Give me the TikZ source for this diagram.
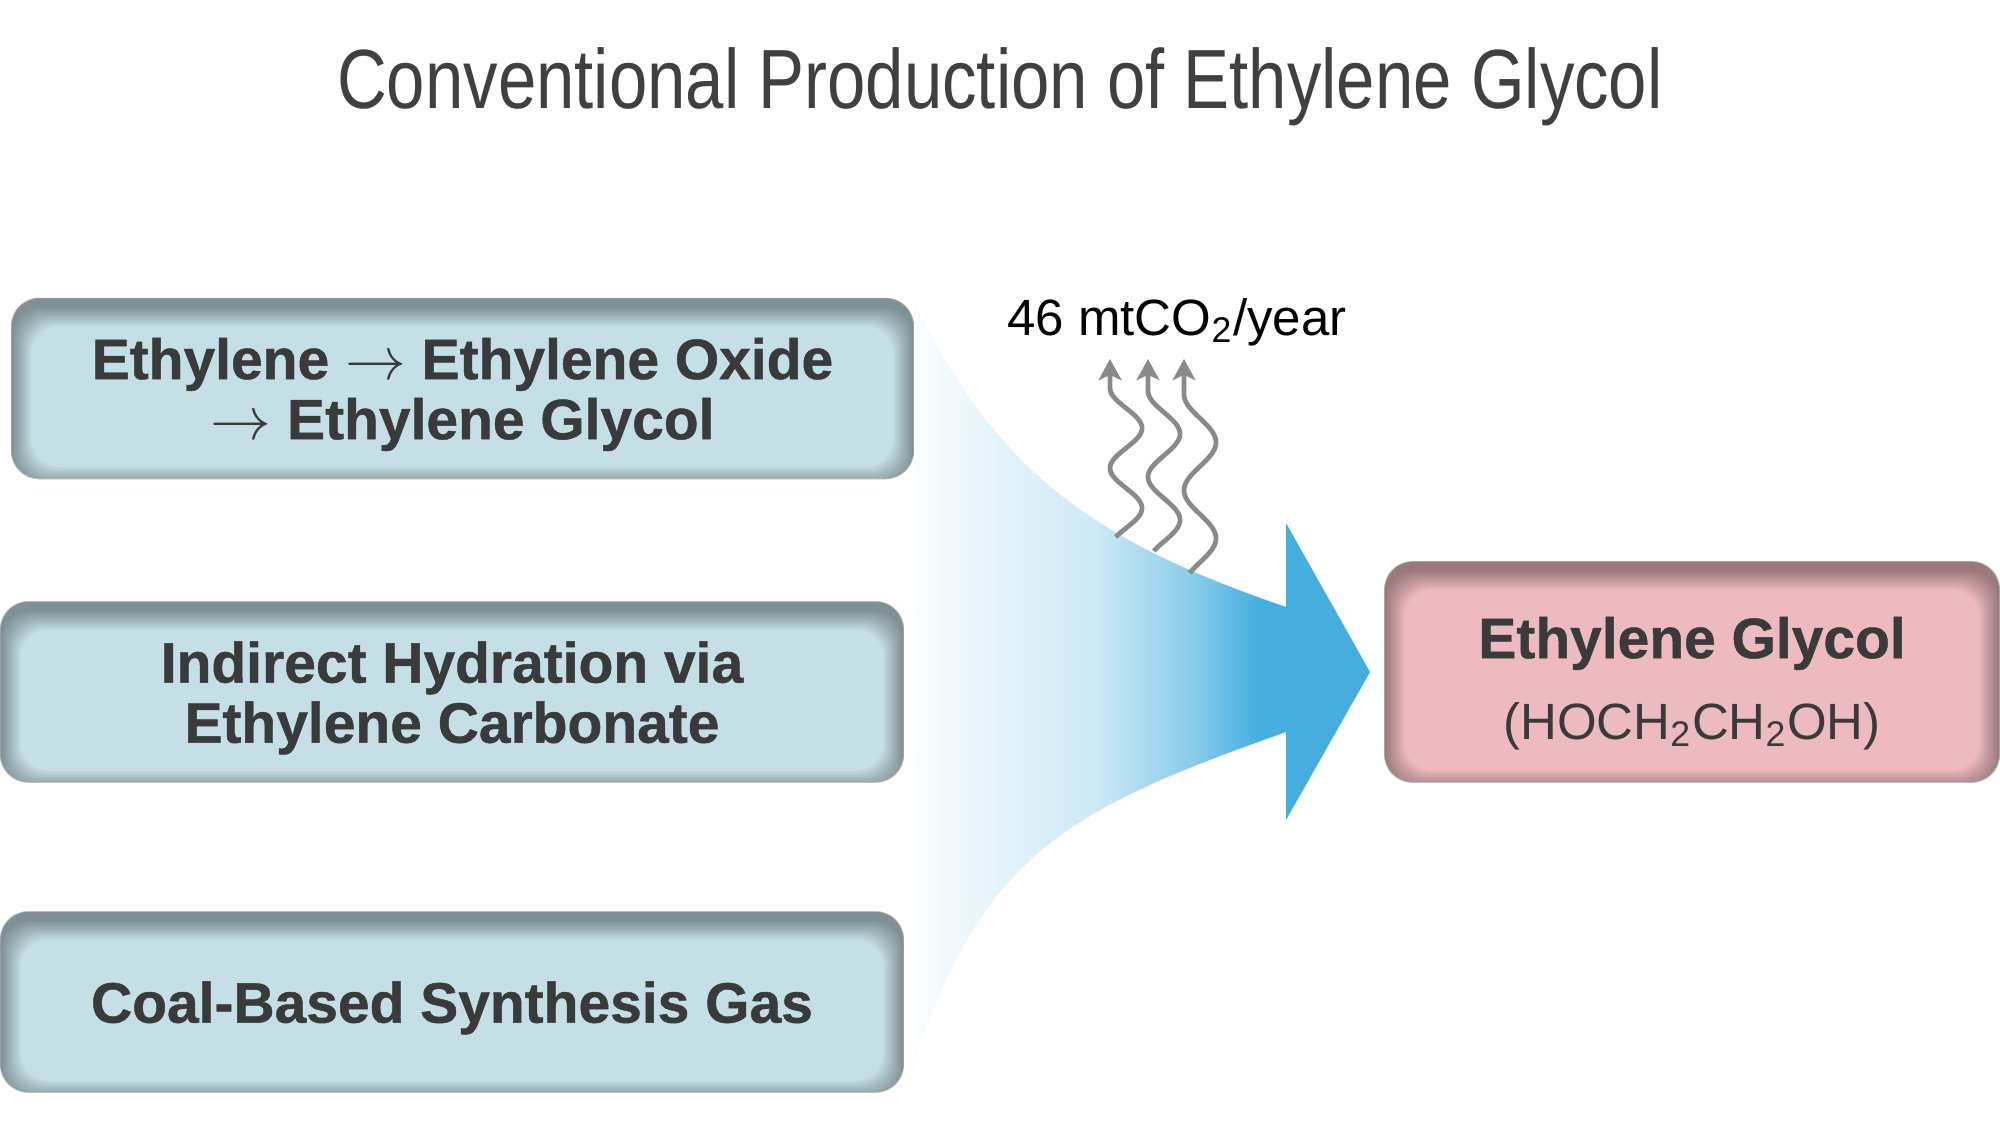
\documentclass[tikz,border=0pt]{standalone}
\usepackage{fontspec}
\setmainfont{Liberation Sans}
\newfontfamily\headfont[FakeStretch=0.82]{Liberation Sans}
\newfontfamily\routefont[FakeBold=0.8]{Liberation Sans Bold}
\usetikzlibrary{arrows.meta}

\definecolor{procfill}{RGB}{197,223,230}
\definecolor{prodfill}{RGB}{237,187,191}
\definecolor{inkgray}{RGB}{58,58,58}
\definecolor{flowblue}{RGB}{69,174,222}
\definecolor{fumegray}{RGB}{138,138,138}
\definecolor{headgray}{RGB}{64,64,64}

\pgfdeclarehorizontalshading{flowfade}{100bp}{color(0bp)=(white); color(25bp)=(white); color(29bp)=(flowblue!7); color(45.5bp)=(flowblue!27); color(56.4bp)=(flowblue!65); color(63bp)=(flowblue); color(100bp)=(flowblue)}

\newcommand\insetshade[1]{%
  \begin{scope}
    \clip[rounded corners=8pt] (#1.south west) rectangle (#1.north east);
    \foreach \k in {1,...,10}
      \fill[black,opacity=0.04,even odd rule] (#1.south west) rectangle (#1.north east)
        [rounded corners=8pt] ([shift={(\k*2,8+\k*2)}]#1.north west) rectangle ([shift={(-\k*2,8-\k*2)}]#1.south east);
  \end{scope}}

\begin{document}
\begin{tikzpicture}[x=0.01cm,y=-0.01cm,
    route/.style={rectangle,rounded corners=8pt,fill=procfill,inner sep=0pt,align=center,text depth=0pt,
      text=inkgray,font=\routefont\fontsize{16.2}{17.1}\selectfont,minimum height=1.8cm},
    product/.style={route,fill=prodfill,text height=38.3pt,minimum height=2.2cm,minimum width=6.14cm},
    emission/.style={fumegray,line width=1.35pt,-{Stealth[length=6pt,width=6.5pt,inset=1.5pt]}}]

        \useasboundingbox (0,0) rectangle (2000,1133);

        \shade[shading=flowfade] (913,300) .. controls (999,480) and (1106,545) .. (1286,607)
              -- (1286,523) -- (1370,672) -- (1286,820) -- (1286,732)
              .. controls (1057,813) and (975,859) .. (905,1092) -- cycle;

        \node[route,minimum width=9.01cm] (oxide) at (462.5,388.5) {Ethylene $\rightarrow$ Ethylene Oxide\\$\rightarrow$ Ethylene Glycol};

        \node[route,minimum width=9.02cm] (carbonate) at (452,692) {Indirect Hydration via\\Ethylene Carbonate};

        \node[route,minimum width=9.02cm] (syngas) at (452,1002) {Coal-Based Synthesis Gas};

        \node[product] (glycol) at (1692,672) {Ethylene Glycol\\[6pt]{\normalfont\fontsize{14.5}{17}\selectfont(HOCH\textsubscript{2}CH\textsubscript{2}OH)}};

        \foreach \n in {oxide,carbonate,syngas,glycol} \insetshade{\n};

        \node[anchor=base,font=\headfont\fontsize{23.9}{28}\selectfont,text=headgray] (title) at (1000,108) {Conventional Production of Ethylene Glycol};

        \node[anchor=base,font=\fontsize{14.5}{17}\selectfont] (emis) at (1177,335) {46 mtCO\textsubscript{2}/year};

        \foreach \i/\tipx/\yb/\p in {1/1110/537/80,2/1148/551/86,3/1184/573/96}{
              \coordinate (fume\i) at (\tipx,359);
              \draw[emission] plot[domain=-40:630,samples=70,variable=\t] ({\tipx+16+16*sin(\t)},{\yb-(\t+40)/360*\p}) -- (fume\i);
        }

\end{tikzpicture}
\end{document}
